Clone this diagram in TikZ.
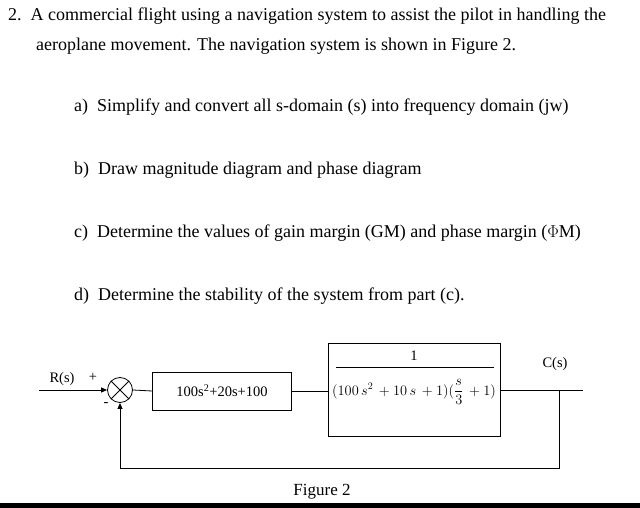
\documentclass[tikz,border=0pt]{standalone}
\usepackage{fontspec}
\setmainfont{Liberation Serif}
\usetikzlibrary{arrows.meta}
\begin{document}
\begin{tikzpicture}[x=1pt,y=-1pt,
  txt/.style={anchor=base west,inner sep=0pt,font=\fontsize{18}{21}\selectfont},
  blk/.style={draw,line width=0.8pt},
  sig/.style={line width=0.8pt},
  arr/.style={sig,-{Triangle[length=6pt,width=5pt]}},
  small/.style={inner sep=0pt,font=\fontsize{14.5}{16}\selectfont}]
\useasboundingbox (0,0) rectangle (640,508);
\fill[white] (0,0) rectangle (640,508);
\node[txt] (l1) at (8,21) {2.\ \ A commercial flight using a navigation system to assist the pilot in handling the};
\node[txt] (l2) at (36,51) {aeroplane movement. The navigation system is shown in Figure 2.};
\node[txt] (qa) at (74,112) {a)\ \ Simplify and convert all s-domain (s) into frequency domain (jw)};
\node[txt] (qb) at (74,175) {b)\ \ Draw magnitude diagram and phase diagram};
\node[txt] (qc) at (74,237) {c)\ \ Determine the values of gain margin (GM) and phase margin ($\Phi$M)};
\node[txt] (qd) at (74,300) {d)\ \ Determine the stability of the system from part (c).};
% diagram
\coordinate (in) at (39,390);
\node[draw,circle,line width=0.8pt,minimum size=25pt,inner sep=0pt] (sum) at (120,390) {};
\draw[line width=0.8pt] (sum.north west) -- (sum.south east) (sum.north east) -- (sum.south west);
\node[blk,minimum width=139pt,minimum height=38pt,small] (g1) at (222,391) {100s\textsuperscript{2}+20s+100};
\node[blk,minimum width=172pt,minimum height=93pt] (g2) at (414,389.5) {};
\draw[line width=0.6pt] (336,367) -- (494,367);
\node[small,font=\fontsize{14.5}{16}\selectfont] (num) at (414,356) {1};
\node[small,font=\fontsize{14.5}{16}\selectfont] (den) at (414,392) {$\displaystyle(100\,s^{2}\,+10\,s\,+1)(\frac{s}{3}\,+1)$};
\coordinate (tap) at (559,390);
\coordinate (out) at (583,390);
\coordinate (fb) at (559,468);
\coordinate (fl) at (120,468);
\draw[arr] (in) -- (sum.west);
\draw[sig] (sum.east) -- (g1.west);
\draw[sig] (g1.east) -- (g2.west |- g1.east);
\draw[sig] (g2.east |- tap) -- (out);
\draw[sig] (tap) -- (fb) -- (fl);
\draw[arr] (fl) -- (sum.south);
\node[small] (rs) at (62,379) {R(s)};
\node[small] (plus) at (93,377) {+};
\node[small] (minus) at (106,405) {-};
\node[small] (cs) at (555,364) {C(s)};
\node[small,font=\fontsize{17}{19}\selectfont] (fig) at (322,492) {Figure 2};
\fill (0,503) rectangle (640,508);
\end{tikzpicture}
\end{document}
